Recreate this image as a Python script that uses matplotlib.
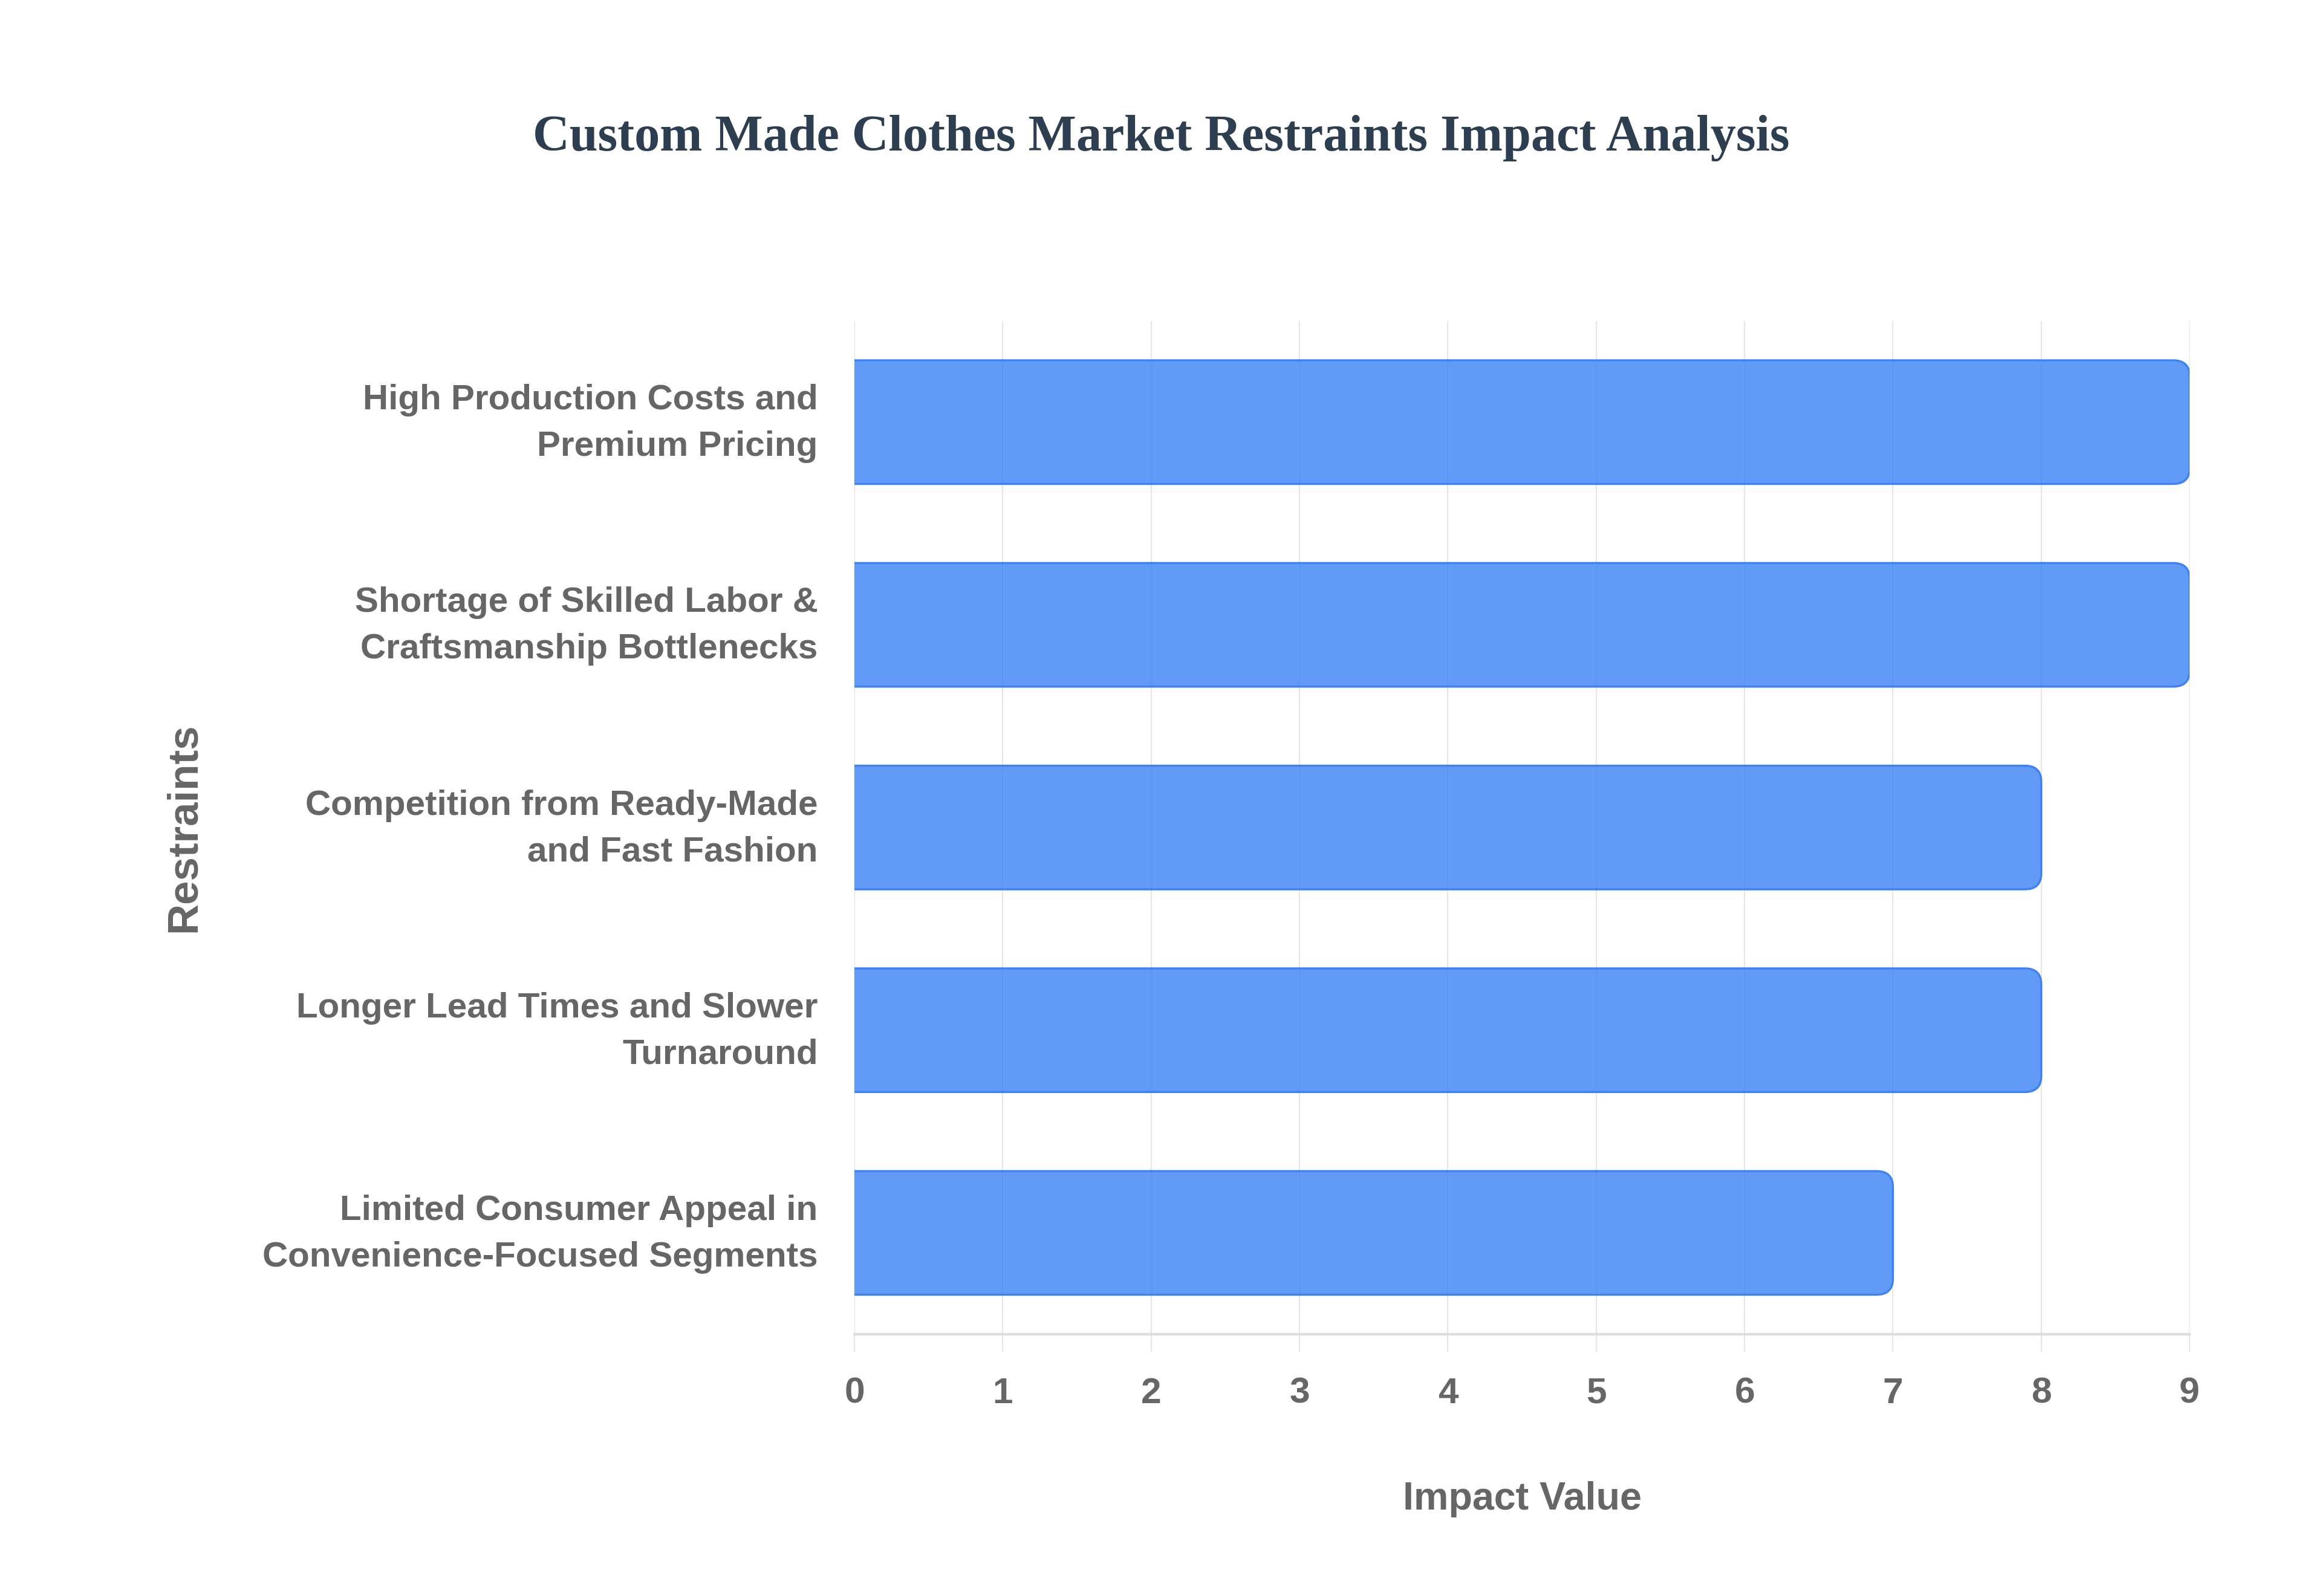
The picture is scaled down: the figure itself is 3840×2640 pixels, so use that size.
import matplotlib.pyplot as plt
from matplotlib.patches import FancyBboxPatch

# ---- #
# data #
# ---- #
restraints = [
    "High Production Costs and\nPremium Pricing",
    "Shortage of Skilled Labor &\nCraftsmanship Bottlenecks",
    "Competition from Ready-Made\nand Fast Fashion",
    "Longer Lead Times and Slower\nTurnaround",
    "Limited Consumer Appeal in\nConvenience-Focused Segments",
]
impact = [9, 9, 8, 8, 7]
x_ticks = [0, 1, 2, 3, 4, 5, 6, 7, 8, 9]

label_gray = "#666666"
grid_gray = "#e6e6e6"

fig = plt.figure(figsize=(12.8, 8.8), dpi=300)
ax = fig.add_axes([0.368, 0.164, 0.575, 0.635])

ax.set_xlim(0, 9)
ax.set_ylim(len(restraints) - 0.5, -0.5)

# bars with rounded right end (left end hidden under x=0)
bar_h = 0.61
for i, v in enumerate(impact):
    box = FancyBboxPatch((-0.5, i - bar_h / 2), v + 0.5, bar_h,
                         boxstyle="round,pad=0,rounding_size=0.11",
                         mutation_aspect=0.72,
                         facecolor="#3b82f6", alpha=0.8,
                         edgecolor="none", zorder=3)
    ax.add_patch(box)
    edge = FancyBboxPatch((-0.5, i - bar_h / 2), v + 0.5, bar_h,
                          boxstyle="round,pad=0,rounding_size=0.11",
                          mutation_aspect=0.72,
                          facecolor="none", edgecolor="#3b82f6",
                          linewidth=0.8, zorder=4)
    ax.add_patch(edge)

# label ticks sit a touch above bar centres (ticks themselves are hidden)
ax.set_yticks([i - 0.045 for i in range(len(restraints))])
ax.set_yticklabels(restraints, fontfamily="Liberation Sans", fontweight="bold",
                   fontsize=14, color=label_gray, linespacing=1.54)

ax.set_xticks(x_ticks)
ax.set_xticklabels([str(t) for t in x_ticks], fontfamily="Liberation Sans",
                   fontweight="bold", fontsize=14.5, color=label_gray)

ax.tick_params(axis="y", length=0, pad=14.5)
ax.tick_params(axis="x", length=7, width=0.5, color=grid_gray, pad=10)

ax.grid(axis="x", color=grid_gray, linewidth=0.5, zorder=0)
ax.set_axisbelow(True)
for s in ["top", "right", "left"]:
    ax.spines[s].set_visible(False)
ax.spines["bottom"].set_color("#dddddd")
ax.spines["bottom"].set_linewidth(1.0)

ax.set_xlabel("Impact Value", fontfamily="Liberation Sans", fontweight="bold",
              fontsize=15.5, color=label_gray, va="center")
ax.xaxis.set_label_coords(0.5, -0.163)
ax.set_ylabel("Restraints", fontfamily="Liberation Sans", fontweight="bold",
              fontsize=17, color=label_gray, va="center")
ax.yaxis.set_label_coords(-0.502, 0.5)

fig.text(0.5, 0.9136, "Custom Made Clothes Market Restraints Impact Analysis",
         ha="center", va="center", fontfamily="Liberation Serif",
         fontweight="bold", fontsize=20.2, color="#2c3e50")

plt.savefig("out.png", dpi=300, facecolor="white")
